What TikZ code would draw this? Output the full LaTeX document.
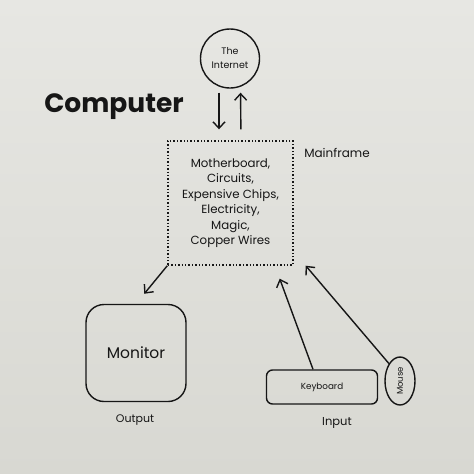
\documentclass[tikz,border=0pt]{standalone}
\usepackage{fontspec}
\setmainfont{Poppins}
\usetikzlibrary{arrows.meta,shapes.geometric}
\definecolor{bgtop}{HTML}{E7E7E3}
\definecolor{bgbot}{HTML}{D8D8D2}
\definecolor{ink}{HTML}{161616}
\tikzset{
  arr/.style={draw=ink,line width=1.4pt,-{Straight Barb[length=6.5pt,width=12pt,line width=1.4pt]}},
  shapeline/.style={draw=ink,line width=1.4pt},
  lbl/.style={text=ink,inner sep=0pt},
}
\begin{document}
\begin{tikzpicture}[x=1pt,y=-1pt]
\useasboundingbox (0,0) rectangle (474,474);
\shade[top color=bgtop,bottom color=bgbot] (0,0) rectangle (474,474);
% title
\node[lbl,font=\fontsize{26.5}{30}\selectfont\bfseries] (title) at (114,107) {Computer};
% internet
\node[shapeline,circle,minimum size=59pt,inner sep=0pt,align=center,text=ink,
  font=\fontsize{9.5}{14}\selectfont] (inet) at (230,58.5) {The\\Internet};
% mainframe
\node[draw=ink,line width=1.4pt,dotted,minimum width=125pt,minimum height=124pt,inner sep=0pt,
  align=center,text=ink,font=\fontsize{11.8}{15.5}\selectfont] (main) at (230.5,203)
  {Motherboard,\\Circuits,\\Expensive Chips,\\Electricity,\\Magic,\\Copper Wires};
\node[lbl,font=\fontsize{12}{14}\selectfont] (mflbl) at (337,153) {Mainframe};
% monitor
\node[shapeline,rounded corners=18pt,minimum width=100pt,minimum height=97pt,inner sep=0pt,
  text=ink,font=\fontsize{15.5}{17}\selectfont] (mon) at (136,353) {Monitor};
\node[lbl,font=\fontsize{11}{13}\selectfont] (outlbl) at (135,420) {Output};
% keyboard
\node[shapeline,rounded corners=6pt,minimum width=111pt,minimum height=34pt,inner sep=0pt,
  text=ink,font=\fontsize{8.8}{11}\selectfont] (kb) at (322,387) {Keyboard};
% mouse
\node[shapeline,ellipse,minimum width=30pt,minimum height=48pt,inner sep=0pt] (mouse) at (400,381) {};
\node[lbl,rotate=90,font=\fontsize{8.5}{10}\selectfont] (mousetxt) at (mouse.center) {Mouse};
\node[lbl,font=\fontsize{11.5}{13}\selectfont] (inlbl) at (337,423) {Input};
% connectors
\draw[arr,shorten <=4pt,shorten >=11pt] ([xshift=-11pt]inet.south) -- ([xshift=-11.5pt]main.north);
\draw[arr,shorten <=11pt,shorten >=4pt] ([xshift=10.5pt]main.north) -- ([xshift=10.5pt]inet.south);
\draw[arr,shorten >=13pt] (main.south west) -- (mon.north);
\coordinate (kbtip) at ([xshift=-14pt,yshift=-13pt]main.south east);
\draw[arr] ([xshift=-9pt]kb.north) -- (kbtip);
\coordinate (mstip) at ([xshift=12pt]main.south east);
\draw[arr] (mouse.north west) -- (mstip);
\end{tikzpicture}
\end{document}
